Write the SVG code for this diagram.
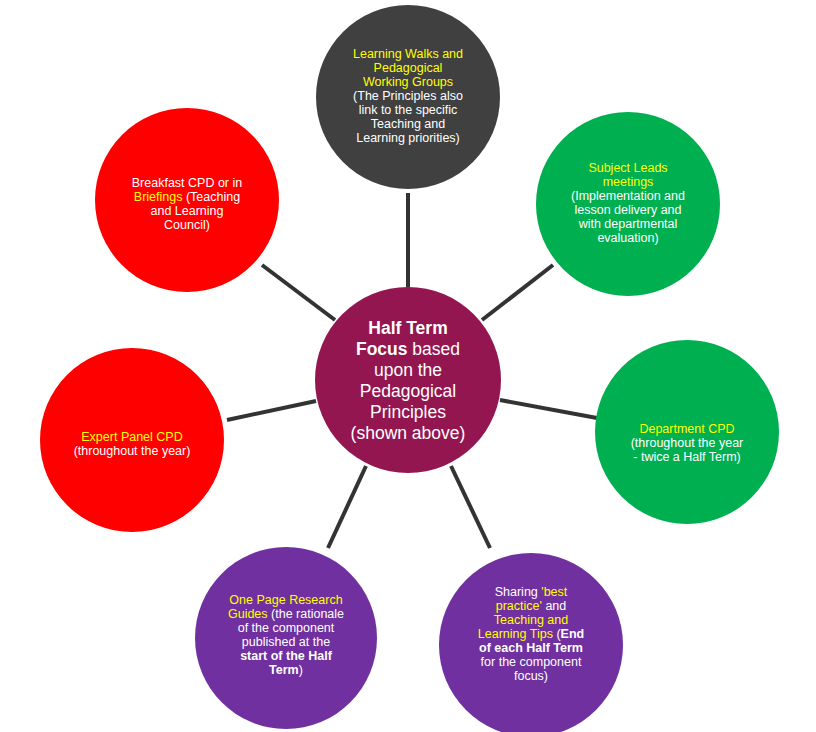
<svg xmlns="http://www.w3.org/2000/svg" width="816" height="732" viewBox="0 0 816 732">
<style>
text{font-family:"Liberation Sans",Arial,sans-serif;font-size:12.5px;fill:#fff;text-anchor:middle}
.y{fill:#ffff00}
.b{font-weight:bold}
.c{font-size:17.5px}
#connectors line{stroke:#333;stroke-width:4}
</style>
<rect width="816" height="732" fill="#fff"/>
<g id="connectors">
<line x1="408" y1="193" x2="408" y2="287"/>
<line x1="553" y1="265" x2="482" y2="320"/>
<line x1="597" y1="418" x2="500" y2="400"/>
<line x1="490" y1="548" x2="451" y2="466"/>
<line x1="328" y1="548" x2="366" y2="466"/>
<line x1="227" y1="420" x2="316" y2="401"/>
<line x1="262" y1="265" x2="335" y2="320"/>
</g>
<g id="top"><circle cx="408" cy="97" r="92" fill="#404040"/>
<text y="58"><tspan class="y" x="408">Learning Walks and</tspan><tspan class="y" x="408" dy="14">Pedagogical</tspan><tspan class="y" x="408" dy="14">Working Groups</tspan><tspan x="408" dy="14">(The Principles also</tspan><tspan x="408" dy="14">link to the specific</tspan><tspan x="408" dy="14">Teaching and</tspan><tspan x="408" dy="14">Learning priorities)</tspan></text></g>
<g id="subject"><circle cx="628" cy="204" r="92" fill="#00b050"/>
<text y="172"><tspan class="y" x="628">Subject Leads</tspan><tspan class="y" x="628" dy="14">meetings</tspan><tspan x="628" dy="14">(Implementation and</tspan><tspan x="628" dy="14">lesson delivery and</tspan><tspan x="628" dy="14">with departmental</tspan><tspan x="628" dy="14">evaluation)</tspan></text></g>
<g id="dept"><circle cx="687" cy="432" r="92" fill="#00b050"/>
<text y="433"><tspan class="y" x="687">Department CPD</tspan><tspan x="687" dy="14">(throughout the year</tspan><tspan x="687" dy="14">- twice a Half Term)</tspan></text></g>
<g id="sharing"><circle cx="531" cy="645" r="92" fill="#7030a0"/>
<text y="596"><tspan x="531">Sharing <tspan class="y">'best</tspan></tspan><tspan x="531" dy="14"><tspan class="y">practice'</tspan> and</tspan><tspan class="y" x="531" dy="14">Teaching and</tspan><tspan x="531" dy="14"><tspan class="y">Learning Tips</tspan> (<tspan class="b">End</tspan></tspan><tspan class="b" x="531" dy="14">of each Half Term</tspan><tspan x="531" dy="14">for the component</tspan><tspan x="531" dy="14">focus)</tspan></text></g>
<g id="guides"><circle cx="286" cy="638" r="91" fill="#7030a0"/>
<text y="604"><tspan x="286"><tspan class="y">One Page Research</tspan></tspan><tspan x="286" dy="14"><tspan class="y">Guides</tspan> (the rationale</tspan><tspan x="286" dy="14">of the component</tspan><tspan x="286" dy="14">published at the</tspan><tspan class="b" x="286" dy="14">start of the Half</tspan><tspan x="286" dy="14"><tspan class="b">Term</tspan>)</tspan></text></g>
<g id="expert"><circle cx="132" cy="440" r="92" fill="#ff0000"/>
<text y="441"><tspan class="y" x="132">Expert Panel CPD</tspan><tspan x="132" dy="14">(throughout the year)</tspan></text></g>
<g id="breakfast"><circle cx="187" cy="200" r="92" fill="#ff0000"/>
<text y="187"><tspan x="187">Breakfast CPD or in</tspan><tspan x="187" dy="14"><tspan class="y">Briefings</tspan> (Teaching</tspan><tspan x="187" dy="14">and Learning</tspan><tspan x="187" dy="14">Council)</tspan></text></g>
<g id="center"><circle cx="408" cy="380" r="93" fill="#941651"/>
<text class="c" y="334"><tspan class="b" x="408">Half Term</tspan><tspan x="408" dy="21"><tspan class="b">Focus</tspan> based</tspan><tspan x="408" dy="21">upon the</tspan><tspan x="408" dy="21">Pedagogical</tspan><tspan x="408" dy="21">Principles</tspan><tspan x="408" dy="21">(shown above)</tspan></text></g>
</svg>
